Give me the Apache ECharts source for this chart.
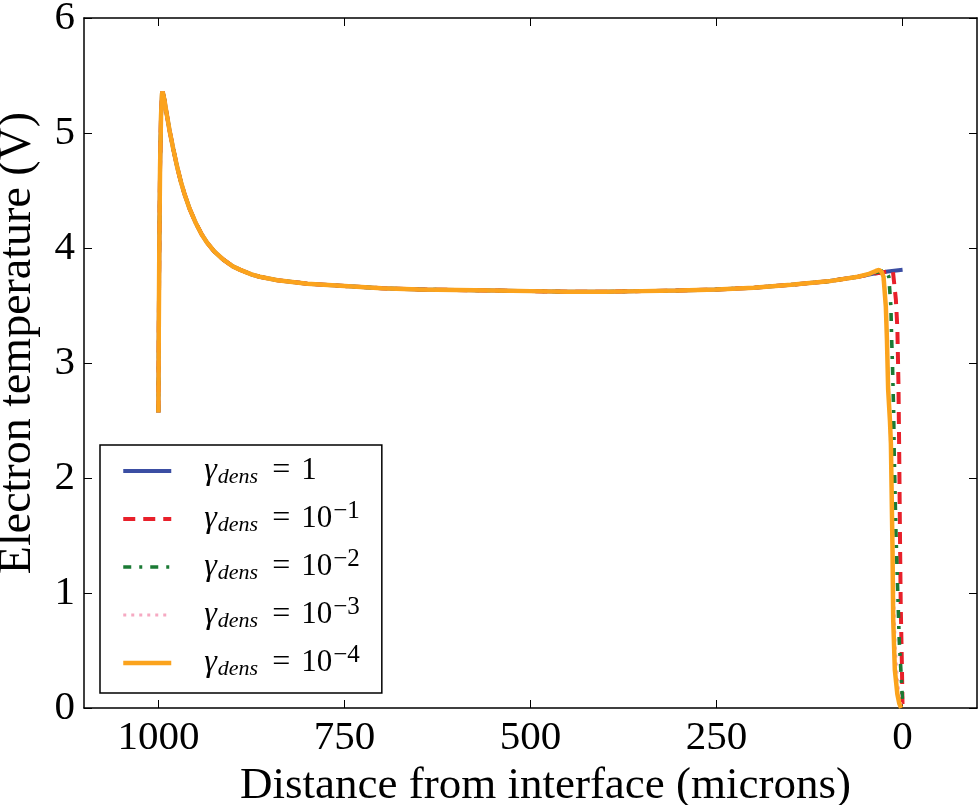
<!DOCTYPE html>
<html>
<head>
<meta charset="utf-8">
<script src="https://cdn.jsdelivr.net/npm/echarts@6/dist/echarts.min.js"></script>
<style>
html, body { margin: 0; padding: 0; background: #fff; }
#chart { width: 980px; height: 805px; }
</style>
</head>
<body>
<div id="chart"></div>
<script>
// tick labels
var xTicks = [0, 250, 500, 750, 1000];

// part of the profile shared by every run (distance in microns, Te in V)
var sharedX = [1000, 999.5, 998.8, 997.8, 996.5, 995.2, 994.3, 992, 989, 985, 980, 975, 970, 965, 958, 950, 942, 935, 925, 913, 900, 890, 875, 864, 840, 800, 750, 700, 650, 600, 550, 500, 450, 400, 350, 300, 250, 200, 150, 100, 60];
var sharedY = [2.57, 3.3, 4.0, 4.7, 5.15, 5.34, 5.36, 5.29, 5.17, 5.02, 4.86, 4.71, 4.58, 4.47, 4.34, 4.22, 4.12, 4.05, 3.97, 3.90, 3.84, 3.81, 3.77, 3.75, 3.72, 3.69, 3.67, 3.65, 3.64, 3.635, 3.63, 3.625, 3.62, 3.62, 3.625, 3.63, 3.64, 3.655, 3.68, 3.71, 3.75];

// tails near the interface, one per gamma_dens
var tailX0 = [40, 20, 0];
var tailY0 = [3.775, 3.795, 3.81];
var tailX1 = [40, 25, 16, 13, 9, 7, 5.5, 4.5, 3.5, 2.5, 1, 0];
var tailY1 = [3.775, 3.79, 3.80, 3.80, 3.55, 3.3, 2.8, 2.2, 1.5, 0.9, 0.4, 0];
var tailX2 = [40, 28, 22, 18.5, 15.7, 14.8, 13.5, 12, 11.3, 9, 6.7, 4.5, 2.3, 0];
var tailY2 = [3.78, 3.80, 3.80, 3.75, 3.49, 3.23, 2.97, 2.57, 2.22, 1.55, 1.05, 0.59, 0.33, 0.05];
var tailX3 = [42, 33, 28, 24, 21.5, 19.5, 17, 15, 13.5, 12, 10, 7, 4, 1];
var tailY3 = [3.78, 3.80, 3.80, 3.65, 3.3, 2.9, 2.5, 2.0, 1.5, 1.0, 0.55, 0.25, 0.08, 0];
var tailX4 = [45, 36, 31.5, 28, 25.6, 22.5, 21, 19.4, 17, 15.7, 14.8, 13.5, 12.6, 10.4, 7, 4.5, 2];
var tailY4 = [3.775, 3.80, 3.81, 3.79, 3.75, 3.49, 3.2, 2.77, 2.5, 2.3, 1.92, 1.35, 0.77, 0.33, 0.12, 0.04, 0];

var legendNames = ['γdens = 1', 'γdens = 10^-1', 'γdens = 10^-2', 'γdens = 10^-3', 'γdens = 10^-4'];
var legendExp = ['', '\u22121', '\u22122', '\u22123', '\u22124'];

var tailsX = [tailX0, tailX1, tailX2, tailX3, tailX4];
var tailsY = [tailY0, tailY1, tailY2, tailY3, tailY4];

var colors = ['#3b4ea3', '#e8202a', '#1a7a34', '#f6a9c2', '#fba31d'];
var widths = [4, 4, 3.6, 3, 4.5];
var dashes = ['solid', [12, 8], [8, 8, 3, 8], [3, 5], 'solid'];

var FONT = 'Liberation Serif';

function build(i) {
    var out = [];
    for (var k = 0; k < sharedX.length; k++) out.push([sharedX[k], sharedY[k]]);
    for (var j = 0; j < tailsX[i].length; j++) out.push([tailsX[i][j], tailsY[i][j]]);
    return out;
}

var series = legendNames.map(function (n, i) {
    return {
        name: n,
        type: 'line',
        symbol: 'none',
        data: build(i),
        z: 2 + i,
        lineStyle: { color: colors[i], width: widths[i], type: dashes[i] },
        itemStyle: { color: colors[i] }
    };
});

var tickStyle = { inside: true, length: 8, lineStyle: { color: '#000', width: 1 } };
var lineStyleAx = { show: true, onZero: false, lineStyle: { color: '#000', width: 1.5 } };

var chart = echarts.init(document.getElementById('chart'));
chart.setOption({
    animation: false,
    backgroundColor: '#fff',
    grid: { left: 84, right: 3, top: 18, bottom: 97, outerBoundsMode: 'none' },
    legend: {
        orient: 'vertical',
        left: 100,
        top: 445,
        padding: [6, 22, 10, 21],
        itemWidth: 48,
        itemHeight: 14,
        itemGap: 7.5,
        borderColor: '#000',
        borderWidth: 1.5,
        backgroundColor: '#fff',
        itemStyle: { opacity: 0 },
        lineStyle: { width: 'inherit' },
        data: legendNames,
        formatter: function (name) {
            var e = legendExp[legendNames.indexOf(name)];
            return '{g|γ}{s|dens}{q|=}{t|' + (e ? '10' : '1') + '}' + (e ? '{p|' + e + '}' : '');
        },
        textStyle: {
            fontFamily: FONT,
            fontSize: 30,
            color: '#000',
            lineHeight: 40,
            padding: [0, 0, 0, 28],
            rich: {
                g: { fontFamily: FONT, fontStyle: 'italic', fontSize: 32, color: '#000' },
                s: { fontFamily: FONT, fontStyle: 'italic', fontSize: 22, color: '#000', padding: [12, 0, 0, 1] },
                q: { fontFamily: FONT, fontSize: 32, color: '#000', padding: [0, 11, 0, 14] },
                t: { fontFamily: FONT, fontSize: 31, color: '#000' },
                p: { fontFamily: FONT, fontSize: 25, color: '#000', padding: [0, 0, 16, 1] }
            }
        }
    },
    xAxis: [{
        type: 'value',
        inverse: true,
        min: -100,
        max: 1100,
        position: 'bottom',
        axisLine: lineStyleAx,
        axisTick: Object.assign({ customValues: xTicks }, tickStyle),
        splitLine: { show: false },
        axisLabel: {
            customValues: xTicks, fontFamily: FONT, fontSize: 41, color: '#000', margin: 10,
            formatter: function (v) { return String(v); }
        },
        name: 'Distance from interface (microns)',
        nameLocation: 'middle',
        nameGap: 50,
        nameTextStyle: { fontFamily: FONT, fontSize: 45, color: '#000', padding: [0, 0, 0, 30] }
    }, {
        type: 'value',
        inverse: true,
        min: -100,
        max: 1100,
        position: 'top',
        axisLine: lineStyleAx,
        axisTick: Object.assign({ customValues: xTicks }, tickStyle),
        splitLine: { show: false },
        axisLabel: { show: false }
    }],
    yAxis: [{
        type: 'value',
        min: 0,
        max: 6,
        interval: 1,
        position: 'left',
        axisLine: lineStyleAx,
        axisTick: tickStyle,
        splitLine: { show: false },
        axisLabel: { fontFamily: FONT, fontSize: 41, color: '#000', margin: 9 },
        name: 'Electron temperature (V)',
        nameLocation: 'middle',
        nameGap: 43,
        nameTextStyle: { fontFamily: FONT, fontSize: 46, color: '#000', padding: [0, 0, 0, 40] }
    }, {
        type: 'value',
        min: 0,
        max: 6,
        interval: 1,
        position: 'right',
        axisLine: lineStyleAx,
        axisTick: tickStyle,
        splitLine: { show: false },
        axisLabel: { show: false }
    }],
    series: series
});
</script>
</body>
</html>
